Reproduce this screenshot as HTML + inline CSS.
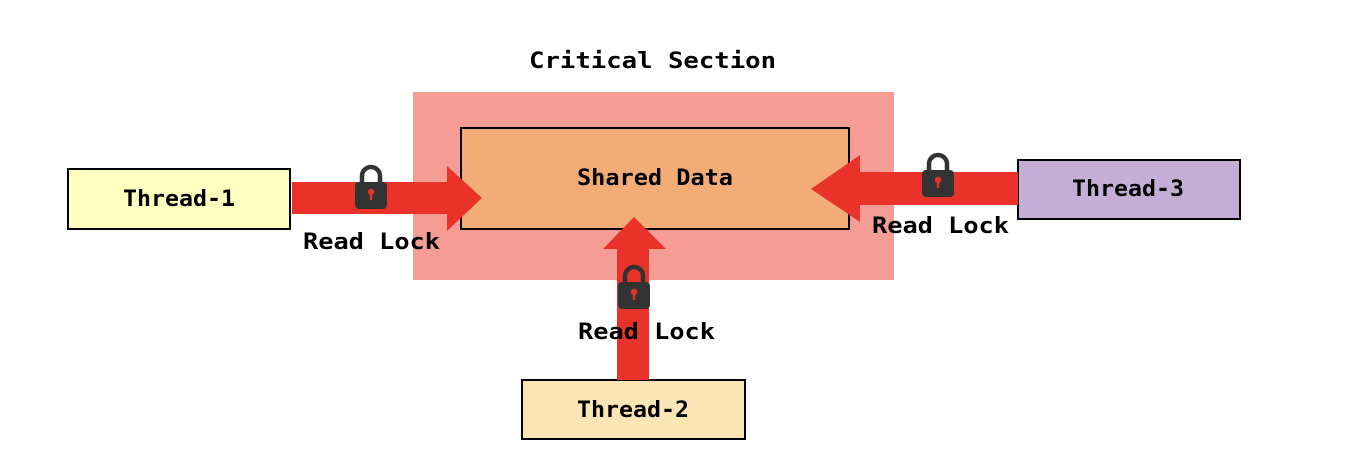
<!DOCTYPE html>
<html><head><style>html,body{margin:0;padding:0;background:#fff}</style></head>
<body>
<svg width="1372" height="466" viewBox="0 0 1372 466" xmlns="http://www.w3.org/2000/svg" font-family="'DejaVu Sans Mono', 'Liberation Mono', monospace" font-weight="bold" font-size="22">
<defs>
<g id="lock">
<path d="M-9,0 V-8 A9,9 0 0 1 9,-8 V0" fill="none" stroke="#333" stroke-width="4.5"/>
<rect x="-16" y="-2" width="32" height="27" rx="4" fill="#333"/>
<circle cx="0" cy="8" r="3.2" fill="#e8322a"/>
<rect x="-1.2" y="8" width="2.4" height="8" fill="#e8322a"/>
</g>
</defs>
<text x="529" y="68" textLength="247" lengthAdjust="spacingAndGlyphs">Critical Section</text>
<rect x="413" y="92" width="481" height="188" fill="#f59d94"/>
<rect x="461" y="128" width="388" height="101" fill="#f4ac76" stroke="#000" stroke-width="2"/>
<text x="577" y="185" textLength="156" lengthAdjust="spacingAndGlyphs">Shared Data</text>
<rect x="68" y="169" width="222" height="60" fill="#ffffc0" stroke="#000" stroke-width="2"/>
<text x="123" y="206" textLength="112" lengthAdjust="spacingAndGlyphs">Thread-1</text>
<rect x="1018" y="160" width="222" height="59" fill="#c5aed6" stroke="#000" stroke-width="2"/>
<text x="1072" y="196" textLength="112" lengthAdjust="spacingAndGlyphs">Thread-3</text>
<rect x="522" y="380" width="223" height="59" fill="#fbe5b5" stroke="#000" stroke-width="2"/>
<text x="577" y="417" textLength="112" lengthAdjust="spacingAndGlyphs">Thread-2</text>
<polygon points="292,182 447,182 447,166 482,198 447,231 447,214 292,214" fill="#e8322a"/>
<polygon points="1018,172 860,172 860,155 811,189 860,222 860,205 1018,205" fill="#e8322a"/>
<polygon points="617,380 617,249 603,249 634,217 666,249 649,249 649,380" fill="#e8322a"/>
<use href="#lock" x="371" y="184"/>
<use href="#lock" x="938" y="172"/>
<use href="#lock" x="634" y="284"/>
<text x="303" y="249" textLength="137" lengthAdjust="spacingAndGlyphs">Read Lock</text>
<text x="872" y="233" textLength="137" lengthAdjust="spacingAndGlyphs">Read Lock</text>
<text x="578" y="339" textLength="137" lengthAdjust="spacingAndGlyphs">Read Lock</text>
</svg>
</body></html>
